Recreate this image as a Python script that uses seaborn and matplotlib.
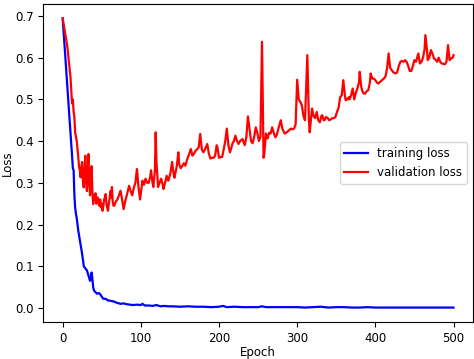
import numpy as np
import pandas as pd
import matplotlib
matplotlib.use("Agg")
import matplotlib.pyplot as plt
import seaborn as sns

# training loss
train_epoch = [0, 2, 4, 6, 8, 10, 12, 13, 14, 15, 16, 17, 18, 19, 20, 22, 24, 26, 27, 29,
               31, 33, 35, 36, 37, 38, 39, 40, 42, 44, 46, 48, 50, 52, 55, 58, 62, 66, 70, 74,
               78, 82, 86, 90, 95, 100, 102, 105, 110, 115, 120, 125, 130, 135, 140, 150, 160,
               170, 180, 190, 200, 205, 210, 220, 230, 240, 250, 255, 260, 270, 280, 290, 300,
               310, 320, 330, 340, 350, 360, 370, 380, 390, 400, 410, 420, 430, 440, 450, 460,
               470, 480, 490, 500]
train_loss = [0.694, 0.64, 0.585, 0.53, 0.474, 0.42, 0.365, 0.335, 0.33, 0.27, 0.24, 0.225,
              0.215, 0.2, 0.185, 0.162, 0.14, 0.115, 0.1, 0.095, 0.09, 0.078, 0.065, 0.07,
              0.085, 0.07, 0.05, 0.042, 0.038, 0.034, 0.036, 0.033, 0.027, 0.022, 0.022, 0.018,
              0.017, 0.015, 0.012, 0.010, 0.011, 0.009, 0.008, 0.007, 0.008, 0.007, 0.010,
              0.006, 0.006, 0.005, 0.007, 0.004, 0.005, 0.004, 0.004, 0.003, 0.004, 0.003,
              0.003, 0.002, 0.003, 0.005, 0.002, 0.003, 0.002, 0.002, 0.002, 0.004, 0.002,
              0.002, 0.002, 0.002, 0.002, 0.001, 0.002, 0.003, 0.001, 0.002, 0.002, 0.001,
              0.001, 0.002, 0.001, 0.001, 0.001, 0.001, 0.001, 0.001, 0.001, 0.001, 0.001,
              0.001, 0.001]

# validation loss
val_epoch = [0, 3, 6, 8, 10, 12, 13, 14, 15, 16, 17, 18, 19, 20, 21, 22, 23, 24, 25, 26,
             27, 28, 29, 30, 31, 32, 33, 34, 35, 36, 37, 38, 39, 40, 41, 42, 43, 44, 45, 46,
             47, 48, 49, 50, 51, 52, 53, 54, 55, 56, 57, 58, 59, 60, 61, 62, 63, 64, 65, 66,
             68, 70, 72, 74, 76, 78, 80, 82, 85, 87, 89, 91, 93, 95, 97, 99, 102, 104, 106,
             108, 110, 112, 113, 115, 116, 118, 119, 120, 122, 124, 126, 128, 129, 131, 133,
             135, 136, 138, 140, 142, 143, 145, 146, 148, 149, 151, 153, 155, 157, 159, 160,
             162, 164, 166, 168, 170, 172, 174, 176, 178, 180, 182, 185, 187, 189, 191, 193,
             195, 197, 198, 200, 202, 204, 206, 208, 210, 212, 214, 216, 217, 219, 221, 223,
             225, 227, 230, 232, 233, 235, 237, 239, 241, 243, 245, 247, 249, 251, 253, 255,
             257, 258, 260, 262, 264, 266, 268, 270, 272, 274, 276, 279, 281, 284, 286, 289,
             292, 294, 296, 298, 300, 302, 304, 306, 308, 310, 313, 315, 316, 318, 319, 321,
             323, 325, 327, 329, 331, 332, 334, 335, 337, 339, 341, 343, 345, 347, 349, 351,
             353, 355, 357, 359, 361, 362, 364, 366, 367, 369, 371, 373, 375, 377, 379, 380,
             382, 383, 385, 387, 389, 391, 393, 394, 396, 398, 400, 402, 404, 406, 408, 411,
             413, 415, 417, 419, 421, 423, 426, 428, 430, 432, 434, 436, 438, 440, 442, 444,
             446, 448, 450, 452, 455, 457, 459, 461, 463, 464, 466, 467, 469, 471, 473, 475,
             477, 479, 481, 483, 485, 487, 489, 491, 493, 495, 497, 499, 500]
val_loss = [0.694, 0.66, 0.626, 0.59, 0.553, 0.49, 0.50, 0.47, 0.457, 0.42, 0.41, 0.40,
            0.38, 0.36, 0.337, 0.33, 0.313, 0.34, 0.35, 0.30, 0.289, 0.33, 0.365, 0.30, 0.28,
            0.33, 0.369, 0.30, 0.27, 0.31, 0.34, 0.28, 0.249, 0.27, 0.26, 0.275, 0.25, 0.262,
            0.265, 0.25, 0.245, 0.26, 0.241, 0.25, 0.233, 0.245, 0.26, 0.265, 0.273, 0.25,
            0.24, 0.233, 0.25, 0.262, 0.28, 0.265, 0.29, 0.255, 0.245, 0.245, 0.255, 0.26,
            0.27, 0.281, 0.26, 0.237, 0.256, 0.27, 0.293, 0.28, 0.27, 0.288, 0.30, 0.333,
            0.29, 0.26, 0.305, 0.295, 0.31, 0.30, 0.30, 0.315, 0.33, 0.30, 0.29, 0.33, 0.421,
            0.35, 0.29, 0.30, 0.31, 0.295, 0.285, 0.30, 0.317, 0.305, 0.31, 0.325, 0.35,
            0.32, 0.312, 0.33, 0.34, 0.373, 0.345, 0.335, 0.34, 0.347, 0.341, 0.355, 0.36,
            0.37, 0.381, 0.365, 0.37, 0.377, 0.38, 0.385, 0.417, 0.38, 0.373, 0.38, 0.393,
            0.37, 0.358, 0.36, 0.36, 0.365, 0.39, 0.385, 0.36, 0.362, 0.362, 0.38, 0.40,
            0.43, 0.39, 0.373, 0.385, 0.393, 0.40, 0.413, 0.40, 0.393, 0.40, 0.405, 0.395,
            0.39, 0.41, 0.459, 0.43, 0.40, 0.395, 0.41, 0.433, 0.42, 0.40, 0.41, 0.638, 0.36,
            0.37, 0.418, 0.406, 0.42, 0.418, 0.433, 0.42, 0.409, 0.415, 0.43, 0.45, 0.43,
            0.418, 0.42, 0.425, 0.43, 0.428, 0.43, 0.44, 0.547, 0.50, 0.494, 0.486, 0.46,
            0.45, 0.606, 0.45, 0.421, 0.46, 0.478, 0.46, 0.455, 0.47, 0.45, 0.445, 0.46,
            0.462, 0.45, 0.45, 0.458, 0.455, 0.45, 0.452, 0.455, 0.455, 0.458, 0.47, 0.48,
            0.505, 0.51, 0.546, 0.51, 0.498, 0.50, 0.505, 0.50, 0.51, 0.526, 0.50, 0.515,
            0.526, 0.54, 0.566, 0.53, 0.522, 0.514, 0.514, 0.52, 0.522, 0.54, 0.562, 0.55,
            0.55, 0.546, 0.54, 0.538, 0.542, 0.545, 0.55, 0.555, 0.575, 0.61, 0.575, 0.57,
            0.565, 0.562, 0.565, 0.58, 0.59, 0.592, 0.59, 0.594, 0.59, 0.58, 0.568, 0.568,
            0.58, 0.594, 0.59, 0.61, 0.586, 0.59, 0.60, 0.62, 0.654, 0.62, 0.594, 0.60, 0.618,
            0.61, 0.598, 0.595, 0.59, 0.60, 0.59, 0.586, 0.585, 0.584, 0.59, 0.63, 0.594,
            0.598, 0.60, 0.606]

plt.rcParams["font.size"] = 8.5

fig, ax = plt.subplots(figsize=(4.74, 3.59), dpi=100)
sns.lineplot(x=train_epoch, y=train_loss, color="blue", lw=1.6, label="training loss", ax=ax)
sns.lineplot(x=val_epoch, y=val_loss, color="red", lw=1.6, label="validation loss", ax=ax)

ax.set_xlabel("Epoch", labelpad=1)
ax.set_ylabel("Loss", labelpad=1)
ax.set_yticks(np.arange(0, 0.71, 0.1))
ax.legend(loc="center right")

plt.subplots_adjust(left=0.091, right=0.998, bottom=0.103, top=0.989)
plt.savefig("out.png")
